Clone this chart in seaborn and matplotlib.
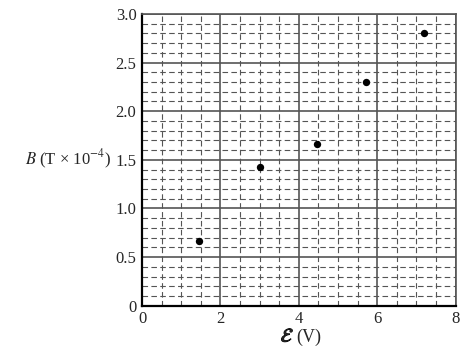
import matplotlib
matplotlib.use("Agg")
import matplotlib.pyplot as plt
import matplotlib.patheffects as pe
import seaborn as sns
import pandas as pd
from matplotlib.ticker import MultipleLocator

emf_v = [1.45, 3.0, 4.45, 5.7, 7.2]
b_field = [0.67, 1.43, 1.66, 2.30, 2.80]
x_ticks = [0, 2, 4, 6, 8]
y_ticks = [0, 0.5, 1.0, 1.5, 2.0, 2.5, 3.0]
y_tick_labels = ["0", "0.5", "1.0", "1.5", "2.0", "2.5", "3.0"]

sns.set_style("white")
plt.rcParams["font.family"] = ["Liberation Serif", "DejaVu Serif"]
plt.rcParams["mathtext.fontset"] = "stix"

df = pd.DataFrame({"emf": emf_v, "B": b_field})

fig = plt.figure(figsize=(4.74, 3.47), dpi=100)
ax = fig.add_axes([0.2996, 0.119, 0.6618, 0.8408])

ax.set_xlim(0, 8)
ax.set_ylim(0, 3.0)
ax.xaxis.set_minor_locator(MultipleLocator(0.5))
ax.yaxis.set_minor_locator(MultipleLocator(0.1))
ax.grid(which="minor", color="#555555", linestyle=(0, (5, 3)), linewidth=0.8, zorder=0)
ax.grid(which="major", color="#555555", linestyle="-", linewidth=1.2, zorder=1)
ax.set_axisbelow(True)

sns.scatterplot(data=df, x="emf", y="B", ax=ax, color="black", s=28,
                edgecolor="black", linewidth=0, zorder=5, legend=False)

ax.set_xticks(x_ticks)
ax.set_xticklabels([str(t) for t in x_ticks])
ax.set_yticks(y_ticks)
ax.set_yticklabels(y_tick_labels)
ax.tick_params(axis="both", which="major", labelsize=12, length=3, width=1,
               color="black", direction="out", pad=1)
ax.tick_params(which="minor", length=0)

for side in ["left", "bottom"]:
    ax.spines[side].set_color("black")
    ax.spines[side].set_linewidth(1.6)
for side in ["top", "right"]:
    ax.spines[side].set_color("#555555")
    ax.spines[side].set_linewidth(1.2)

ax.set_xlabel("")
e_sym = ax.text(0.486, -0.108, r"$\mathcal{E}$", transform=ax.transAxes,
                fontsize=14, ha="right", va="center")
e_sym.set_path_effects([pe.withStroke(linewidth=0.7, foreground="black")])
ax.text(0.492, -0.108, "(V)", transform=ax.transAxes,
        fontsize=13, ha="left", va="center")

ax.set_ylabel(r"$B$ (T × 10$^{-4}$)", fontsize=12, rotation=0, ha="center", va="center")
ax.yaxis.set_label_coords(-0.236, 0.5)

fig.savefig("out.png", dpi=100)
